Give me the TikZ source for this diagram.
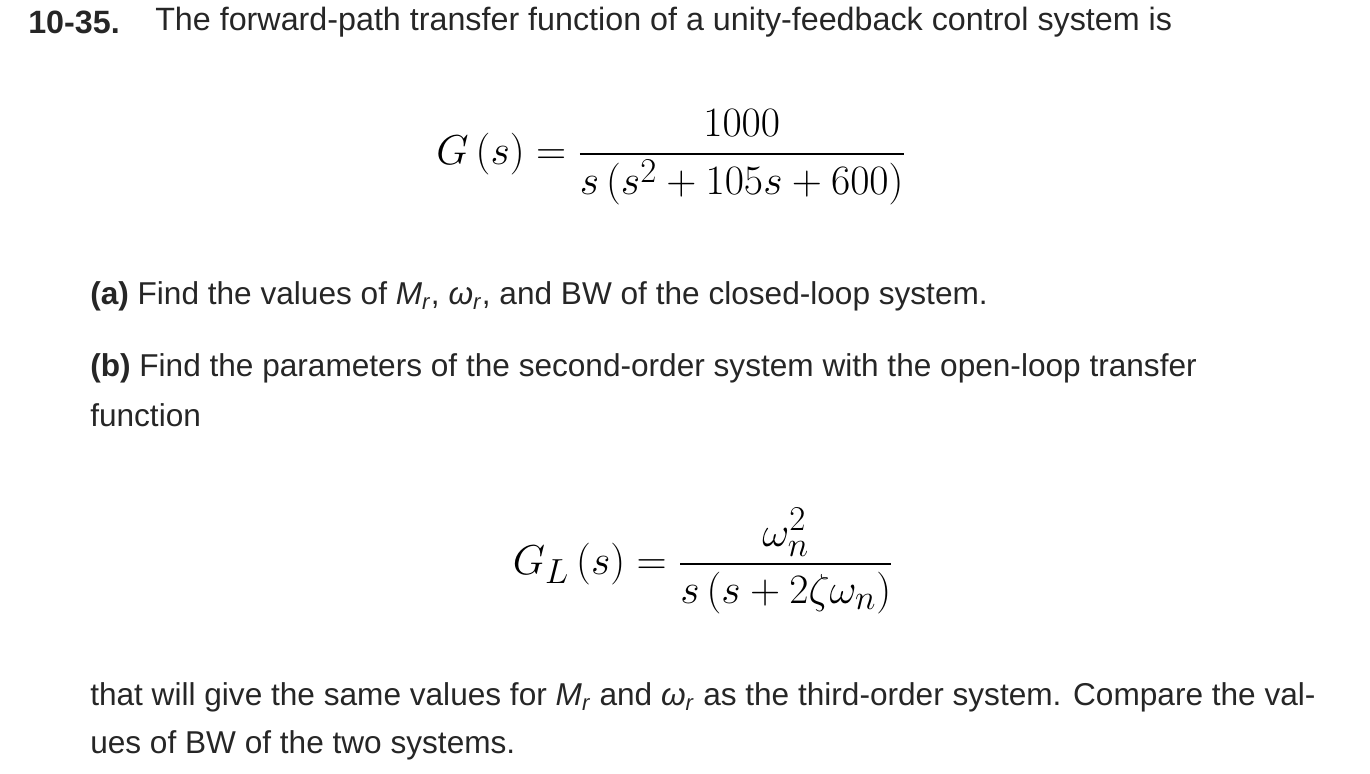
\documentclass[tikz,border=0pt]{standalone}
\usepackage{amsmath}
\usepackage{fontspec}
\setmainfont{Liberation Sans}
\begin{document}
\begin{tikzpicture}[x=0.75pt,y=-0.75pt,
  txt/.style={anchor=west,inner sep=0pt,font=\fontsize{23.7}{28}\selectfont,text=black!85},
  eq/.style={inner sep=0pt,font=\fontsize{24.88}{30}\selectfont,scale=1.26,transform shape}]
\useasboundingbox (0,0) rectangle (1370,774);
\node[txt,font=\fontsize{24.2}{28}\selectfont] (num) at (28,22) {\textbf{10-35.}};
\node[txt,font=\fontsize{24.2}{28}\selectfont] (t1) at (155,22) {The forward-path transfer function of a unity-feedback control system is};
\node[eq] (e1) at (671,157) {$\displaystyle G\,(s)=\frac{1000}{s\,(s^{2}+105s+600)}$};
\node[txt] (a) at (90,296) {\textbf{(a)} Find the values of \textit{M}\textsubscript{\textit{r}}, \textit{ω}\textsubscript{\textit{r}}, and BW of the closed-loop system.};
\node[txt] (b) at (90,368) {\textbf{(b)} Find the parameters of the second-order system with the open-loop transfer};
\node[txt] (b2) at (90,415) {function};
\node[eq] (e2) at (703,561) {$\displaystyle G_L\,(s)=\frac{\omega_n^2}{s\,(s+2\zeta\omega_n)}$};
\node[txt] (c1) at (90,697) {that will give the same values for \textit{M}\textsubscript{\textit{r}} and \textit{ω}\textsubscript{\textit{r}} as the third-order system. Compare the val-};
\node[txt] (c2) at (90,745) {ues of BW of the two systems.};
\end{tikzpicture}
\end{document}
